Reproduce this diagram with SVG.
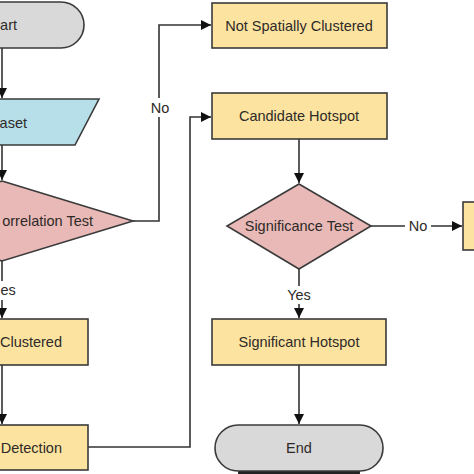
<svg xmlns="http://www.w3.org/2000/svg" width="474" height="474" viewBox="0 0 474 474">
<defs>
<style>
.t{font-family:"Liberation Sans",Arial,sans-serif;font-size:14.5px;fill:#2e2a28}
.m{text-anchor:middle}
.e{text-anchor:end}
.box{fill:#fce4a0;stroke:#3a3a3a;stroke-width:1.6}
.pill{fill:#d9d9d9;stroke:#3a3a3a;stroke-width:1.6}
.dia{fill:#e8b9b6;stroke:#3a3a3a;stroke-width:1.6}
.io{fill:#b7dfe9;stroke:#3a3a3a;stroke-width:1.6}
.c{fill:none;stroke:#333;stroke-width:1.6}
</style>
<marker id="ah" viewBox="0 0 10 10" refX="10" refY="5" markerWidth="10" markerHeight="10" markerUnits="userSpaceOnUse" orient="auto">
<path d="M0,0 L10,5 L0,10 z" fill="#111"/>
</marker>
</defs>
<rect width="474" height="474" fill="#fff"/>
<g id="connectors">
<path class="c" d="M2,48 V98" marker-end="url(#ah)"/>
<path class="c" d="M2,145 V180" marker-end="url(#ah)"/>
<path class="c" d="M2,261 V281 M2,300 V318" marker-end="url(#ah)"/>
<path class="c" d="M2,365 V424" marker-end="url(#ah)"/>
<path class="c" d="M133,221 H159 V117 M159,98 V25 H211" marker-end="url(#ah)"/>
<path class="c" d="M88,447 H190 V117 H211" marker-end="url(#ah)"/>
<path class="c" d="M299,139 V183" marker-end="url(#ah)"/>
<path class="c" d="M371,226 H405 M431,226 H462" marker-end="url(#ah)"/>
<path class="c" d="M299,269 V286 M299,304 V318" marker-end="url(#ah)"/>
<path class="c" d="M299,365 V424" marker-end="url(#ah)"/>
<text class="t m" x="160" y="113">No</text>
<text class="t" x="0.5" y="295" font-size="13.5">es</text>
<text class="t m" x="418" y="231">No</text>
<text class="t m" x="299" y="300">Yes</text>
</g>
<g id="start">
<rect class="pill" x="-100" y="2" width="184" height="46" rx="23"/>
<text class="t e" x="17" y="30">art</text>
</g>
<g id="dataset">
<path class="io" d="M-30,99 H99 L75,145 H-30 z"/>
<text class="t e" x="27" y="128">aset</text>
</g>
<g id="correlation">
<path class="dia" d="M2,181 L133,221 L2,261 L-129,221 z"/>
<text class="t e" x="93" y="226">orrelation Test</text>
</g>
<g id="clustered">
<rect class="box" x="-20" y="319" width="108" height="46"/>
<text class="t e" x="62" y="347">Clustered</text>
</g>
<g id="detection">
<rect class="box" x="-20" y="425" width="108" height="45"/>
<text class="t e" x="62" y="453">Detection</text>
</g>
<g id="not-clustered">
<rect class="box" x="212" y="3" width="175" height="45"/>
<text class="t m" x="299" y="31">Not Spatially Clustered</text>
</g>
<g id="candidate">
<rect class="box" x="212" y="93" width="175" height="46"/>
<text class="t m" x="299" y="121">Candidate Hotspot</text>
</g>
<g id="significance">
<path class="dia" d="M299,184 L371,226 L299,269 L227,226 z"/>
<text class="t m" x="299" y="231">Significance Test</text>
</g>
<g id="right-box">
<rect class="box" x="463" y="202" width="40" height="48"/>
</g>
<g id="significant">
<rect class="box" x="212" y="319" width="174" height="46"/>
<text class="t m" x="299" y="347">Significant Hotspot</text>
</g>
<g id="end">
<rect x="238" y="470" width="122" height="5" rx="2" fill="#222"/>
<rect class="pill" x="215" y="425" width="168" height="46" rx="23"/>
<text class="t m" x="299" y="453">End</text>
</g>
</svg>
